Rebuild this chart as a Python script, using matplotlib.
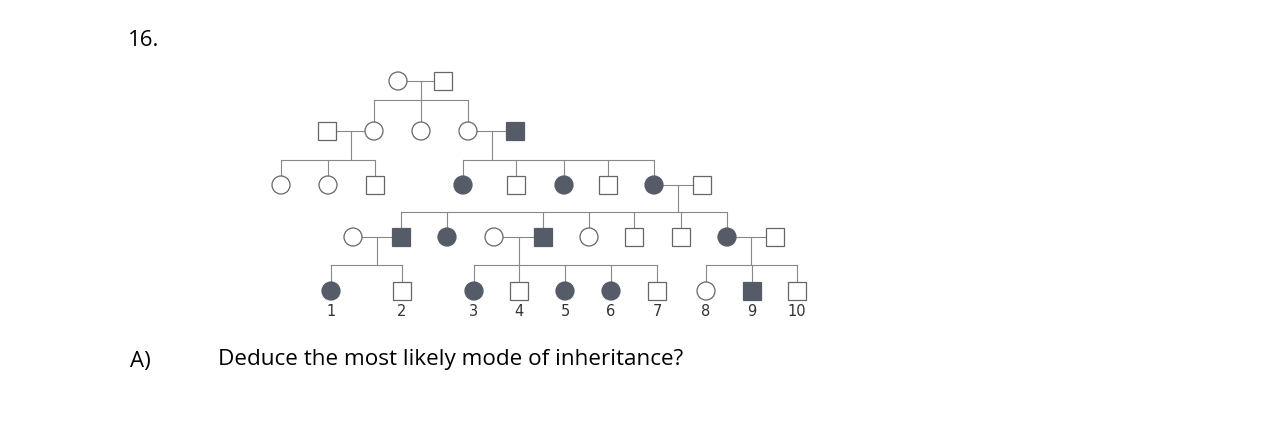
import matplotlib
matplotlib.use("Agg")
import matplotlib.pyplot as plt
from matplotlib.patches import Circle, Rectangle

# individuals: (x, y, sex, affected)
xs = [398,443, 327,374,421,468,515, 281,328,375, 463,516,564,608,654,702,
      353,401,447,494,543,589,634,681,727,775, 331,402, 474,519,565,611,657, 706,752,797]
ys = [81,81] + [131]*5 + [185]*9 + [237]*10 + [291]*10
sex = list("FM" "MFFFM" "FFM" "FMFMFM" "FMFFMFMMFM" "FM" "FMFFM" "FMM")
aff = [0,0, 0,0,0,0,1, 0,0,0, 1,0,1,0,1,0, 0,1,1,0,1,0,0,0,1,0, 1,0, 1,0,1,1,0, 0,1,0]
# couples: (a, b, drop_y, children x list, sib_y, child_y)
couples = [(398,443,81,100,[374,421,468],131),
           (327,374,131,160,[281,328,375],185),
           (468,515,131,160,[463,516,564,608,654],185),
           (654,702,185,212,[401,447,543,589,634,681,727],237),
           (353,401,237,265,[331,402],291),
           (494,543,237,265,[474,519,565,611,657],291),
           (727,775,237,265,[706,752,797],291)]
labels = ["1","2","3","4","5","6","7","8","9","10"]
label_x = [331,402,474,519,565,611,657,706,752,797]

fig = plt.figure(figsize=(12.8,4.26), dpi=100)
ax = fig.add_axes([0,0,1,1])
ax.set_xlim(0,1280); ax.set_ylim(426,0); ax.axis('off')
lc = '#888888'; fc = '#565b68'; r = 9
for a,b,y,sy,kids,cy in couples:
    m = (a+b)/2
    ax.plot([a,b],[y,y],color=lc,lw=0.8)
    ax.plot([m,m],[y,sy],color=lc,lw=0.8)
    ax.plot([min(kids+[m]),max(kids+[m])],[sy,sy],color=lc,lw=0.8)
    for k in kids:
        ax.plot([k,k],[sy,cy-r],color=lc,lw=0.8)
for x,y,s,f in zip(xs,ys,sex,aff):
    face = fc if f else 'white'
    ec = fc if f else '#666666'
    if s=='F':
        p = Circle((x,y),r,facecolor=face,edgecolor=ec,lw=0.9,zorder=3)
    else:
        p = Rectangle((x-r,y-r),2*r,2*r,facecolor=face,edgecolor=ec,lw=0.9,zorder=3)
    ax.add_patch(p)
for x,t in zip(label_x,labels):
    ax.text(x,311,t,ha='center',va='center',fontsize=10.5,color='#333333')
ax.text(128,40,"16.",fontsize=16,va='center',family='Open Sans')
ax.text(130,361,"A)",fontsize=16,va='center',family='Open Sans')
ax.text(218,359,"Deduce the most likely mode of inheritance?",fontsize=16.2,va='center',family='Open Sans')
fig.savefig("out.png",dpi=100)
